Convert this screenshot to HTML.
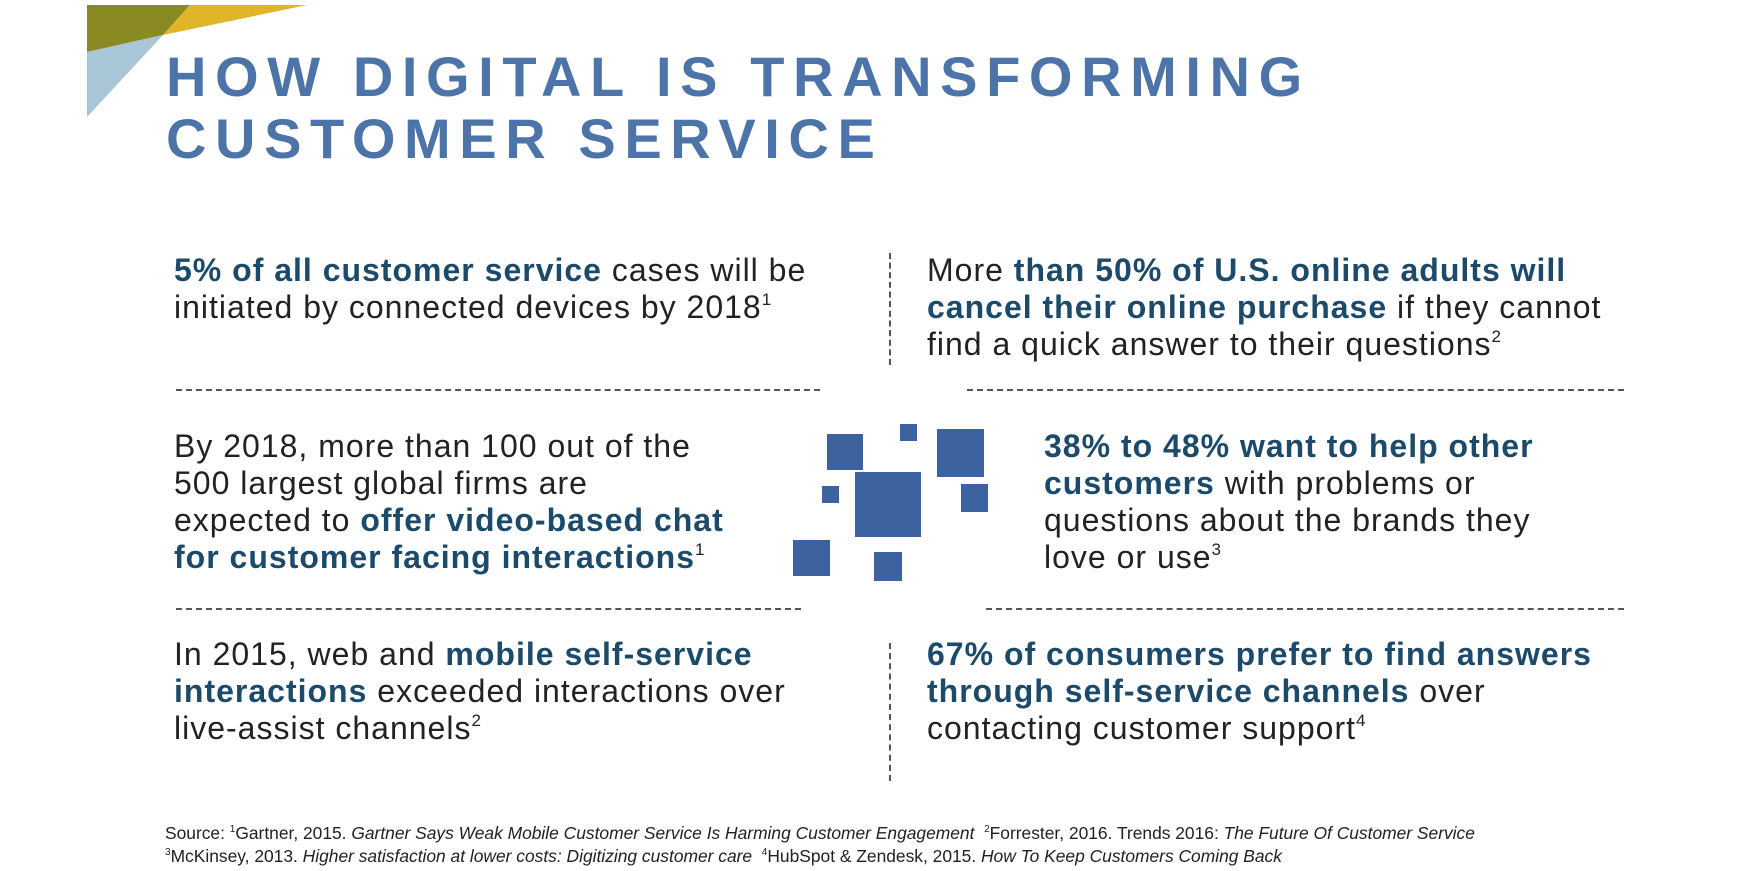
<!DOCTYPE html>
<html><head><meta charset="utf-8"><style>
body{margin:0;width:1754px;height:871px;background:#fff;position:relative;overflow:hidden;font-family:"Liberation Sans",sans-serif}
.t{position:absolute;left:166px;font-weight:bold;color:#4d74a8;font-size:56px;letter-spacing:8.6px;line-height:62px;white-space:nowrap}
.b{position:absolute;font-size:32px;line-height:37px;color:#222;white-space:nowrap;letter-spacing:1px}
.b b{color:#1c4a6a}
sup{font-size:17px;vertical-align:13px;line-height:0}
.h{position:absolute;border-top:2px dashed #555;height:0}
.v{position:absolute;border-left:2px dashed #555;width:0}
.s{position:absolute;background:#3c62a0}
.f{position:absolute;left:165px;font-size:17.4px;color:#222;white-space:nowrap;line-height:22px}
.f sup{font-size:10px;vertical-align:7px}
</style></head><body>
<svg style="position:absolute;left:0;top:0" width="320" height="130">
<polygon points="87,5 190,5 163,35 87,52" fill="#8a8a22"/>
<polygon points="190,5 307,5 163,35" fill="#dfb52a"/>
<polygon points="87,52 163,35 87,117" fill="#a9c6d6"/>
</svg>
<div class="t" style="top:46px">HOW DIGITAL IS TRANSFORMING</div>
<div class="t" style="top:108px">CUSTOMER SERVICE</div>

<div class="b" style="left:174px;top:252px"><b>5% of all customer service</b> cases will be<br>initiated by connected devices by 2018<sup>1</sup></div>
<div class="b" style="left:927px;top:252px">More <b>than 50% of U.S. online adults will<br>cancel their online purchase</b> if they cannot<br>find a quick answer to their questions<sup>2</sup></div>
<div class="h" style="left:176px;width:644px;top:389px"></div>
<div class="h" style="left:967px;width:657px;top:389px"></div>
<div class="b" style="left:174px;top:428px">By 2018, more than 100 out of the<br>500 largest global firms are<br>expected to <b>offer video-based chat<br>for customer facing interactions</b><sup>1</sup></div>
<div class="b" style="left:1044px;top:428px"><b>38% to 48% want to help other<br>customers</b> with problems or<br>questions about the brands they<br>love or use<sup>3</sup></div>
<div class="h" style="left:176px;width:625px;top:608px"></div>
<div class="h" style="left:986px;width:638px;top:608px"></div>
<div class="b" style="left:174px;top:636px">In 2015, web and <b>mobile self-service<br>interactions</b> exceeded interactions over<br>live-assist channels<sup>2</sup></div>
<div class="b" style="left:927px;top:636px"><b>67% of consumers prefer to find answers<br>through self-service channels</b> over<br>contacting customer support<sup>4</sup></div>
<div class="v" style="left:889px;top:253px;height:112px"></div>
<div class="v" style="left:889px;top:643px;height:138px"></div>

<div class="s" style="left:827px;top:434px;width:36px;height:36px"></div>
<div class="s" style="left:900px;top:424px;width:17px;height:17px"></div>
<div class="s" style="left:937px;top:429px;width:47px;height:48px"></div>
<div class="s" style="left:822px;top:486px;width:17px;height:17px"></div>
<div class="s" style="left:855px;top:472px;width:66px;height:65px"></div>
<div class="s" style="left:961px;top:484px;width:27px;height:28px"></div>
<div class="s" style="left:793px;top:540px;width:37px;height:36px"></div>
<div class="s" style="left:874px;top:552px;width:28px;height:29px"></div>

<div class="f" style="top:822px">Source: <sup>1</sup>Gartner, 2015. <i>Gartner Says Weak Mobile Customer Service Is Harming Customer Engagement</i> &nbsp;<sup>2</sup>Forrester, 2016. Trends 2016: <i>The Future Of Customer Service</i></div>
<div class="f" style="top:845px"><sup>3</sup>McKinsey, 2013. <i>Higher satisfaction at lower costs: Digitizing customer care</i> &nbsp;<sup>4</sup>HubSpot &amp; Zendesk, 2015. <i>How To Keep Customers Coming Back</i></div>
</body></html>
